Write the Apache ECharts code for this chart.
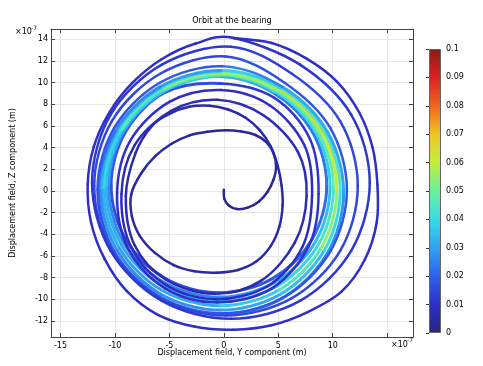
<!DOCTYPE html>
<html><head><meta charset="utf-8">
<script src="https://cdn.jsdelivr.net/npm/echarts@6/dist/echarts.min.js"></script>
<style>html,body{margin:0;padding:0;background:#fff}#c{width:483px;height:366px}</style>
</head><body><div id="c"></div>
<script>
// ---- data (units of 1e-7 m) ----
// inner spiral: start-up hook, first loop, then three growing loops
const innerY = [0.0,0.05,0.45,1.2,2.2,3.2,4.0,4.55,4.8,
4.55,3.9,2.9,1.6,0.1,-1.5,-3.2,-4.8,-6.3,
-7.6,-8.5,-8.45,-7.75,-6.35,-4.6,-2.7,-0.7,1.3,3.0,4.3,5.1,5.4,5.3,4.95,4.3,3.3,2.0,0.4,-1.3,-3.2,-5.0,-6.6,
-8.1,-9.0,-8.2,-5.3,-0.9,3.4,6.5,7.6,6.8,3.6,-0.6,
-4.8,-8.2,-9.4,-8.5,-5.3,-0.7,4.0,7.2,8.1,7.4,4.2,-0.3,
-5.0,-8.6,-9.8,-8.8,-5.4,-0.6,4.4,7.8,8.7,7.9,4.6,-0.3];
const innerZ = [0.1,-0.75,-1.35,-1.68,-1.55,-1.0,-0.1,1.0,2.2,
3.5,4.5,5.15,5.47,5.58,5.45,5.1,4.35,3.2,
1.6,-0.3,-2.3,-4.1,-5.7,-6.85,-7.42,-7.55,-7.3,-6.5,-5.1,-3.3,-1.3,0.5,2.3,4.1,5.6,6.75,7.5,7.85,7.75,7.1,6.0,
3.5,-0.5,-5.0,-8.2,-9.5,-8.3,-4.8,-0.5,3.6,7.0,8.4,
7.4,4.2,-0.3,-5.2,-8.7,-10.0,-8.8,-5.2,-0.4,4.2,7.9,9.3,
8.2,4.6,-0.2,-5.3,-9.0,-10.3,-9.0,-5.1,-0.3,4.8,8.6,9.9];
const innerV = [0.002,0.002,0.0022,0.0024,0.0026,0.0028,0.003,0.0032,0.0034,
0.0036,0.0038,0.004,0.004,0.004,0.004,0.0042,0.0042,0.0042,
0.0044,0.0044,0.0044,0.0046,0.0046,0.0046,0.0048,0.0048,0.0048,0.005,0.005,0.005,0.0052,0.0052,0.0052,0.0054,0.0054,0.0054,0.0056,0.0056,0.0058,0.0058,0.006,
0.006,0.006,0.0065,0.0065,0.0065,0.007,0.007,0.007,0.0075,0.0075,0.0075,
0.008,0.008,0.008,0.0085,0.0085,0.0085,0.009,0.009,0.009,0.0095,0.0095,0.0095,
0.010,0.010,0.010,0.0105,0.0105,0.0105,0.011,0.011,0.011,0.0115,0.012,0.012];

// coloured band of near-steady orbits
const bandY = [-5.40,-9.02,-10.35,-9.02,-5.40,-0.45,4.50,8.12,9.45,8.12,4.50,
-0.41,-5.50,-9.22,-10.58,-9.22,-5.50,-0.41,4.68,8.40,9.76,8.40,4.68,
-0.37,-5.59,-9.41,-10.81,-9.41,-5.59,-0.37,4.85,8.67,10.07,8.67,4.85,
-0.33,-5.69,-9.61,-11.04,-9.61,-5.69,-0.33,5.03,8.95,10.38,8.95,5.03,
-0.29,-5.78,-9.80,-11.27,-9.80,-5.78,-0.29,5.20,9.22,10.69,9.22,5.20,
-0.25,-5.88,-9.99,-11.50,-9.99,-5.88,-0.25,5.38,9.49,11.00,9.49,5.38];
const bandZ = [9.07,5.45,0.50,-4.45,-8.07,-9.40,-8.07,-4.45,0.50,5.45,9.07,
10.54,9.18,5.46,0.37,-4.72,-8.44,-9.80,-8.44,-4.72,0.37,5.46,9.18,
10.68,9.28,5.46,0.24,-4.98,-8.80,-10.20,-8.80,-4.98,0.24,5.46,9.28,
10.82,9.39,5.47,0.11,-5.25,-9.17,-10.60,-9.17,-5.25,0.11,5.47,9.39,
10.96,9.49,5.47,-0.02,-5.51,-9.53,-11.00,-9.53,-5.51,-0.02,5.47,9.49,
11.10,9.59,5.48,-0.15,-5.78,-9.89,-11.40,-9.89,-5.78,-0.15,5.48,9.59];
const bandV = [0.0214,0.0193,0.0174,0.0162,0.0161,0.0169,0.0186,0.0207,0.0226,0.0238,0.0239,
0.0381,0.0347,0.0306,0.0269,0.0245,0.0241,0.0259,0.0293,0.0334,0.0371,0.0395,0.0399,
0.0477,0.0434,0.0383,0.0336,0.0306,0.0302,0.0323,0.0366,0.0417,0.0464,0.0494,0.0499,
0.0608,0.0532,0.0439,0.0354,0.0301,0.0293,0.0332,0.0408,0.0501,0.0586,0.0639,0.0647,
0.0437,0.0394,0.0343,0.0296,0.0266,0.0262,0.0283,0.0326,0.0377,0.0424,0.0454,0.0459,
0.0306,0.0281,0.0250,0.0221,0.0204,0.0201,0.0214,0.0239,0.0270,0.0299,0.0316,0.0319];

// outer, larger orbits
const outerY = [-0.15,-5.88,-10.07,-11.60,-10.07,-5.88,-0.15,5.58,9.77,11.30,9.77,5.58,
0.20,-5.85,-10.28,-11.90,-10.28,-5.85,0.20,6.25,10.68,12.30,10.68,6.25,
0.65,-5.73,-10.39,-12.10,-10.39,-5.73,0.65,7.03,11.69,13.40,11.69,7.03,
0.9,-2.58,-5.75,-8.43,-10.53,-11.95,-12.5,-12.19,-10.96,-8.93,-6.05,-2.62,0.9,4.38,7.7,10.8,12.94,14.04,14.1,13.65,12.42,10.38,7.6,4.39,0.9];
const outerZ = [11.50,9.97,5.80,0.10,-5.60,-9.77,-11.30,-9.77,-5.60,0.10,5.80,9.97,
12.40,10.80,6.43,0.45,-5.53,-9.90,-11.50,-9.90,-5.53,0.45,6.43,10.80,
13.30,11.62,7.03,0.75,-5.53,-10.12,-11.80,-10.12,-5.53,0.75,7.03,11.62,
14.1,13.59,12.12,9.93,7.2,4.04,0.6,-2.91,-6.25,-9.23,-11.44,-12.54,-12.8,-12.39,-11.18,-9.3,-6.35,-2.92,0.6,4.02,7.25,10.08,12.2,13.64,14.1];
const outerV = [0.018,0.018,0.018,0.018,0.018,0.018,0.018,0.018,0.018,0.018,0.018,0.018,
0.015,0.015,0.015,0.015,0.015,0.015,0.015,0.015,0.015,0.015,0.015,0.015,
0.012,0.012,0.012,0.012,0.012,0.012,0.012,0.012,0.012,0.012,0.012,0.012,
0.010,0.010,0.010,0.010,0.010,0.010,0.010,0.010,0.010,0.010,0.010,0.010,0.010,0.010,0.010,0.010,0.010,0.010,0.010,0.010,0.010,0.010,0.010,0.010,0.010];

const xTickStep = 5, yTickStep = 2;
const colorTicks = [0,0.01,0.02,0.03,0.04,0.05,0.06,0.07,0.08,0.09,0.1];
const jet = ['#26267f','#2e2ec9','#3060ee','#31a2f2','#36dbe6','#6cf09c','#c3ee3c','#f2c523','#f0651f','#dc2020','#8c1a1a'];

const X_MIN = -15.87, X_MAX = 17.37, Y_MIN = -13.48, Y_MAX = 14.93;
const FONT = 'DejaVu Sans';

// whole orbit as one path (so tangents are continuous between parts)
const pathY = innerY.concat(bandY, outerY);
const pathZ = innerZ.concat(bandZ, outerZ);
const pathV = innerV.concat(bandV, outerV);
const N = pathY.length;

function pathSeries(from, to, width, zz) { // segments i -> i+1 for i in [from, to)
  const data = [];
  for (let i = from; i < to; i++) data.push([pathY[i], pathZ[i], pathY[i + 1], pathZ[i + 1], (pathV[i] + pathV[i + 1]) / 2, i]);
  return {
    type: 'custom', coordinateSystem: 'cartesian2d', xAxisIndex: 0, yAxisIndex: 0,
    data: data, encode: { x: [0, 2], y: [1, 3] }, z: zz, silent: true,
    renderItem: function (params, api) {
      const i = api.value(5);
      const pt = function (k) { k = Math.max(0, Math.min(N - 1, k)); return api.coord([pathY[k], pathZ[k]]); };
      const p0 = pt(i - 1), p1 = pt(i), p2 = pt(i + 1), p3 = pt(i + 2);
      return {
        type: 'bezierCurve',
        shape: {
          x1: p1[0], y1: p1[1], x2: p2[0], y2: p2[1],
          cpx1: p1[0] + (p2[0] - p0[0]) / 6, cpy1: p1[1] + (p2[1] - p0[1]) / 6,
          cpx2: p2[0] - (p3[0] - p1[0]) / 6, cpy2: p2[1] - (p3[1] - p1[1]) / 6
        },
        style: { stroke: api.visual('color'), lineWidth: width, fill: 'none', lineCap: 'round' }
      };
    }
  };
}

const axisCol = '#444';
const lbl = { fontSize: 8, color: '#000', fontFamily: FONT };
const isMult = (v, s) => Math.abs(v / s - Math.round(v / s)) < 1e-6;
const nI = innerY.length, nB = bandY.length;

const chart = echarts.init(document.getElementById('c'), null, { renderer: 'canvas' });
chart.setOption({
  animation: false,
  backgroundColor: '#fff',
  title: { text: 'Orbit at the bearing', left: 232, top: 17, textAlign: 'center', padding: 0,
    textStyle: { fontSize: 8, fontWeight: 'normal', color: '#000', fontFamily: FONT } },
  grid: [
    { left: 51, top: 29, width: 362, height: 308, outerBoundsMode: 'none', containLabel: false },
    { left: 429, top: 49, width: 12, height: 284, outerBoundsMode: 'none', containLabel: false }
  ],
  xAxis: [
    { gridIndex: 0, type: 'value', min: X_MIN, max: X_MAX, minInterval: xTickStep, maxInterval: xTickStep, position: 'bottom',
      axisLine: { show: true, onZero: false, lineStyle: { color: axisCol, width: 1 } },
      axisTick: { show: true, inside: true, length: 4, lineStyle: { color: axisCol } },
      axisLabel: Object.assign({ margin: 5,
        formatter: v => (isMult(v, xTickStep) && Math.abs(v - 15) > 1e-6) ? String(Math.round(v)) : '' }, lbl),
      splitLine: { show: true, lineStyle: { color: '#e6e6e6', width: 1 } },
      name: 'Displacement field, Y component (m)', nameLocation: 'middle', nameGap: 12, nameMoveOverlap: false,
      nameTextStyle: { fontSize: 8, color: '#000', fontFamily: FONT } },
    { gridIndex: 0, type: 'value', min: X_MIN, max: X_MAX, minInterval: xTickStep, maxInterval: xTickStep, position: 'top',
      axisLine: { show: true, onZero: false, lineStyle: { color: axisCol, width: 1 } },
      axisTick: { show: true, inside: true, length: 4, lineStyle: { color: axisCol } },
      axisLabel: { show: false }, splitLine: { show: false } },
    { gridIndex: 1, type: 'value', min: 0, max: 1, show: false }
  ],
  yAxis: [
    { gridIndex: 0, type: 'value', min: Y_MIN, max: Y_MAX, minInterval: yTickStep, maxInterval: yTickStep, position: 'left',
      axisLine: { show: true, onZero: false, lineStyle: { color: axisCol, width: 1 } },
      axisTick: { show: true, inside: true, length: 4, lineStyle: { color: axisCol } },
      axisLabel: Object.assign({ margin: 3, formatter: v => isMult(v, yTickStep) ? String(Math.round(v)) : '' }, lbl),
      splitLine: { show: true, lineStyle: { color: '#e6e6e6', width: 1 } },
      name: 'Displacement field, Z component (m)', nameLocation: 'middle', nameGap: 34, nameRotate: 90, nameMoveOverlap: false,
      nameTextStyle: { fontSize: 8, color: '#000', fontFamily: FONT } },
    { gridIndex: 0, type: 'value', min: Y_MIN, max: Y_MAX, minInterval: yTickStep, maxInterval: yTickStep, position: 'right',
      axisLine: { show: true, onZero: false, lineStyle: { color: axisCol, width: 1 } },
      axisTick: { show: true, inside: true, length: 4, lineStyle: { color: axisCol } },
      axisLabel: { show: false }, splitLine: { show: false } },
    { gridIndex: 1, type: 'value', min: colorTicks[0], max: colorTicks[colorTicks.length - 1],
      minInterval: 0.01, maxInterval: 0.01, position: 'right',
      axisLine: { show: false },
      axisTick: { show: true, inside: true, length: 3, lineStyle: { color: '#333' } },
      axisLabel: Object.assign({ margin: 5, formatter: v => String(+(+v).toFixed(2)) }, lbl),
      splitLine: { show: false }, z: 10 }
  ],
  visualMap: {
    type: 'continuous', min: colorTicks[0], max: colorTicks[colorTicks.length - 1], dimension: 4,
    seriesIndex: [0, 1, 2], show: true, left: 429, top: 49, itemWidth: 12, itemHeight: 284,
    padding: 0, calculable: false, hoverLink: false, realtime: false,
    inRange: { color: jet }, textStyle: { fontSize: 8 }
  },
  graphic: [
    { type: 'rect', shape: { x: 429.5, y: 49.5, width: 11, height: 283 }, style: { fill: 'none', stroke: '#666', lineWidth: 1 }, z: 100 },
    { type: 'text', left: 15, top: 28, style: { text: '\u00d710', fontSize: 8, fontFamily: FONT, fill: '#000' }, z: 100 },
    { type: 'text', left: 31, top: 25, style: { text: '-7', fontSize: 6, fontFamily: FONT, fill: '#000' }, z: 100 },
    { type: 'text', left: 391, top: 341, style: { text: '\u00d710', fontSize: 8, fontFamily: FONT, fill: '#000' }, z: 100 },
    { type: 'text', left: 407, top: 337, style: { text: '-7', fontSize: 6, fontFamily: FONT, fill: '#000' }, z: 100 }
  ],
  series: [
    pathSeries(nI - 1, nI + nB - 1, 3.0, 2),
    pathSeries(0, nI - 1, 2.5, 3),
    pathSeries(nI + nB - 1, N - 1, 2.5, 4)
  ]
});
</script>
</body></html>
